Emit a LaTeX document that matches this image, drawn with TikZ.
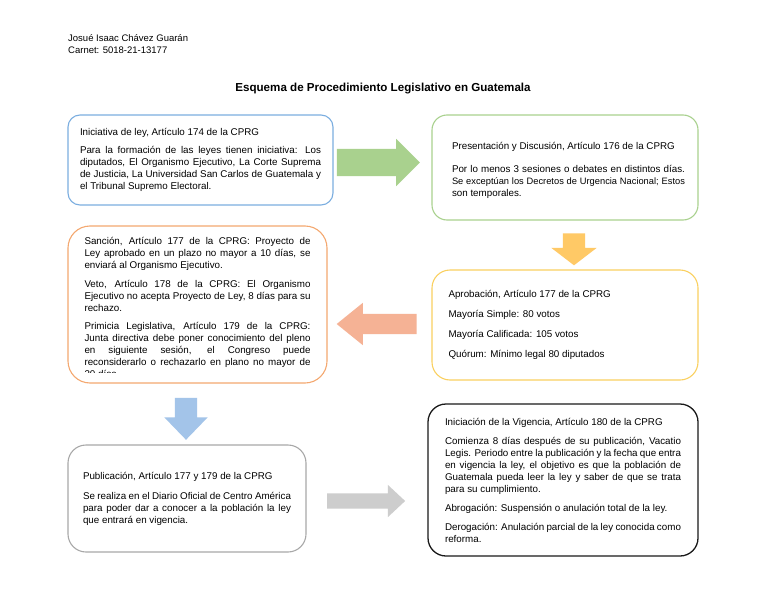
\documentclass[tikz,border=0pt]{standalone}
\usepackage{fontspec}
\setmainfont{Liberation Sans}
\usetikzlibrary{shapes.arrows}

\definecolor{azul}{HTML}{7BAEE0}
\definecolor{verde}{HTML}{A9D18E}
\definecolor{naranja}{HTML}{F4A870}
\definecolor{amarillo}{HTML}{FAD060}
\definecolor{gris}{HTML}{A8A8A8}
\definecolor{negro}{HTML}{1A1A1A}
\definecolor{salmon}{HTML}{F5B295}
\definecolor{celeste}{HTML}{A3C4E9}
\definecolor{oro}{HTML}{FFC966}
\definecolor{plata}{HTML}{CDCDCD}

\begin{document}
\begin{tikzpicture}[x=1pt,y=-1pt,
    texto/.style={align=justify, inner ysep=0pt, font=\fontsize{9.8}{12}\selectfont},
    caja/.style={texto, draw, line width=1.1pt, rounded corners=#1},
    caja/.default=16pt,
    flecha/.style={single arrow, draw=none, single arrow head indent=0pt}]
        \fill[white] (0,0) rectangle (768,594);
        \useasboundingbox (0,0) rectangle (768,594);

        % encabezado
        \node[anchor=west, align=left, inner sep=0pt, font=\fontsize{9.5}{12}\selectfont] (autor) at (68,44)
            {Josué Isaac Chávez Guarán\\Carnet: 5018-21-13177};
        \node[font=\bfseries\fontsize{11.6}{13}\selectfont] (titulo) at (383,89)
            {Esquema de Procedimiento Legislativo en Guatemala};

        % iniciativa
        \node[caja=12pt, draw=azul, text width=241pt, inner xsep=12pt, minimum height=90pt] (iniciativa) at (200.5,160) {
            Iniciativa de ley, Artículo 174 de la CPRG\par\vspace{6pt}
            Para la formación de las leyes tienen iniciativa: Los\linebreak
            diputados, El Organismo Ejecutivo, La Corte Suprema\linebreak
            de Justicia, La Universidad San Carlos de Guatemala y\linebreak
            el Tribunal Supremo Electoral.};

        % presentacion y discusion
        \node[caja=15pt, draw=verde, text width=233pt, inner xsep=16.5pt, minimum height=105pt] (presentacion) at (565,167.5) {};
        \node[texto, text width=233pt] (presentaciontexto) at (568.5,170.5) {
            Presentación y Discusión, Artículo 176 de la CPRG\par\vspace{11pt}
            Por lo menos 3 sesiones o debates en distintos días.\linebreak
            {\fontsize{9.3}{12}\selectfont Se exceptúan los Decretos de Urgencia Nacional; Estos}\linebreak
            son temporales.};

        % aprobacion
        \node[caja=18pt, draw=amarillo, text width=233pt, inner xsep=16.5pt, minimum height=110pt] (aprobacion) at (565,325) {
            Aprobación, Artículo 177 de la CPRG\par\vspace{8pt}
            Mayoría Simple: 80 votos\par\vspace{8pt}
            Mayoría Calificada: 105 votos\par\vspace{8pt}
            Quórum: Mínimo legal 80 diputados};

        % sancion, veto y primicia
        \node[caja=22pt, draw=naranja, text width=226pt, inner xsep=16.5pt, minimum height=157pt] (sancion) at (197.5,304.5) {};
        \begin{scope}
            \clip (68,226) rectangle (327,372);
            \node[texto, text width=226pt] (sanciontexto) at (197.5,307) {
                Sanción, Artículo 177 de la CPRG: Proyecto de\linebreak
                Ley aprobado en un plazo no mayor a 10 días, se\linebreak
                enviará al Organismo Ejecutivo.\par\vspace{7pt}
                Veto, Artículo 178 de la CPRG: El Organismo\linebreak
                Ejecutivo no acepta Proyecto de Ley, 8 días para su\linebreak
                rechazo.\par\vspace{6pt}
                Primicia Legislativa, Artículo 179 de la CPRG:\linebreak
                Junta directiva debe poner conocimiento del pleno\linebreak
                en siguiente sesión, el Congreso puede\linebreak
                reconsiderarlo o rechazarlo en plano no mayor de\linebreak
                30 días.};
        \end{scope}

        % publicacion
        \node[caja=18pt, draw=gris, text width=208pt, inner xsep=15pt, minimum height=107pt] (publicacion) at (187,498.5) {
            Publicación, Artículo 177 y 179 de la CPRG\par\vspace{8pt}
            Se realiza en el Diario Oficial de Centro América\linebreak
            para poder dar a conocer a la población la ley\linebreak
            que entrará en vigencia.};

        % vigencia
        \node[caja=18pt, draw=negro, line width=1.3pt, text width=236pt, inner xsep=17pt, minimum height=152pt] (vigencia) at (563,480) {
            Iniciación de la Vigencia, Artículo 180 de la CPRG\par\vspace{7pt}
            Comienza 8 días después de su publicación, Vacatio\linebreak
            Legis. Periodo entre la publicación y la fecha que entra\linebreak
            en vigencia la ley, el objetivo es que la población de\linebreak
            Guatemala pueda leer la ley y saber de que se trata\linebreak
            para su cumplimiento.\par\vspace{7pt}
            Abrogación: Suspensión o anulación total de la ley.\par\vspace{7pt}
            Derogación: Anulación parcial de la ley conocida como\linebreak
            reforma.};

        % flechas
        \node[flecha, fill=verde, minimum height=83pt, inner xsep=0pt, inner ysep=13.5pt, single arrow head extend=10pt,
            single arrow tip angle=90] (f1) at (371.5,162.5) {};
        \node[flecha, fill=oro, minimum height=32pt, inner ysep=0pt, inner xsep=11pt, single arrow head extend=11.5pt,
            single arrow tip angle=105, shape border rotate=270] (f2) at (574,245) {};
        \node[flecha, fill=salmon, minimum height=80pt, inner xsep=0pt, inner ysep=10pt, single arrow head extend=11pt,
            single arrow tip angle=78, shape border rotate=180] (f3) at (383,324) {};
        \node[flecha, fill=celeste, minimum height=42pt, inner ysep=0pt, inner xsep=11pt, single arrow head extend=10.5pt,
            single arrow tip angle=88, shape border rotate=270] (f4) at (186,413) {};
        \node[flecha, fill=plata, minimum height=78pt, inner xsep=0pt, inner ysep=7.5pt, single arrow head extend=8.5pt,
            single arrow tip angle=86] (f5) at (362,501) {};
    \end{tikzpicture}
\end{document}
